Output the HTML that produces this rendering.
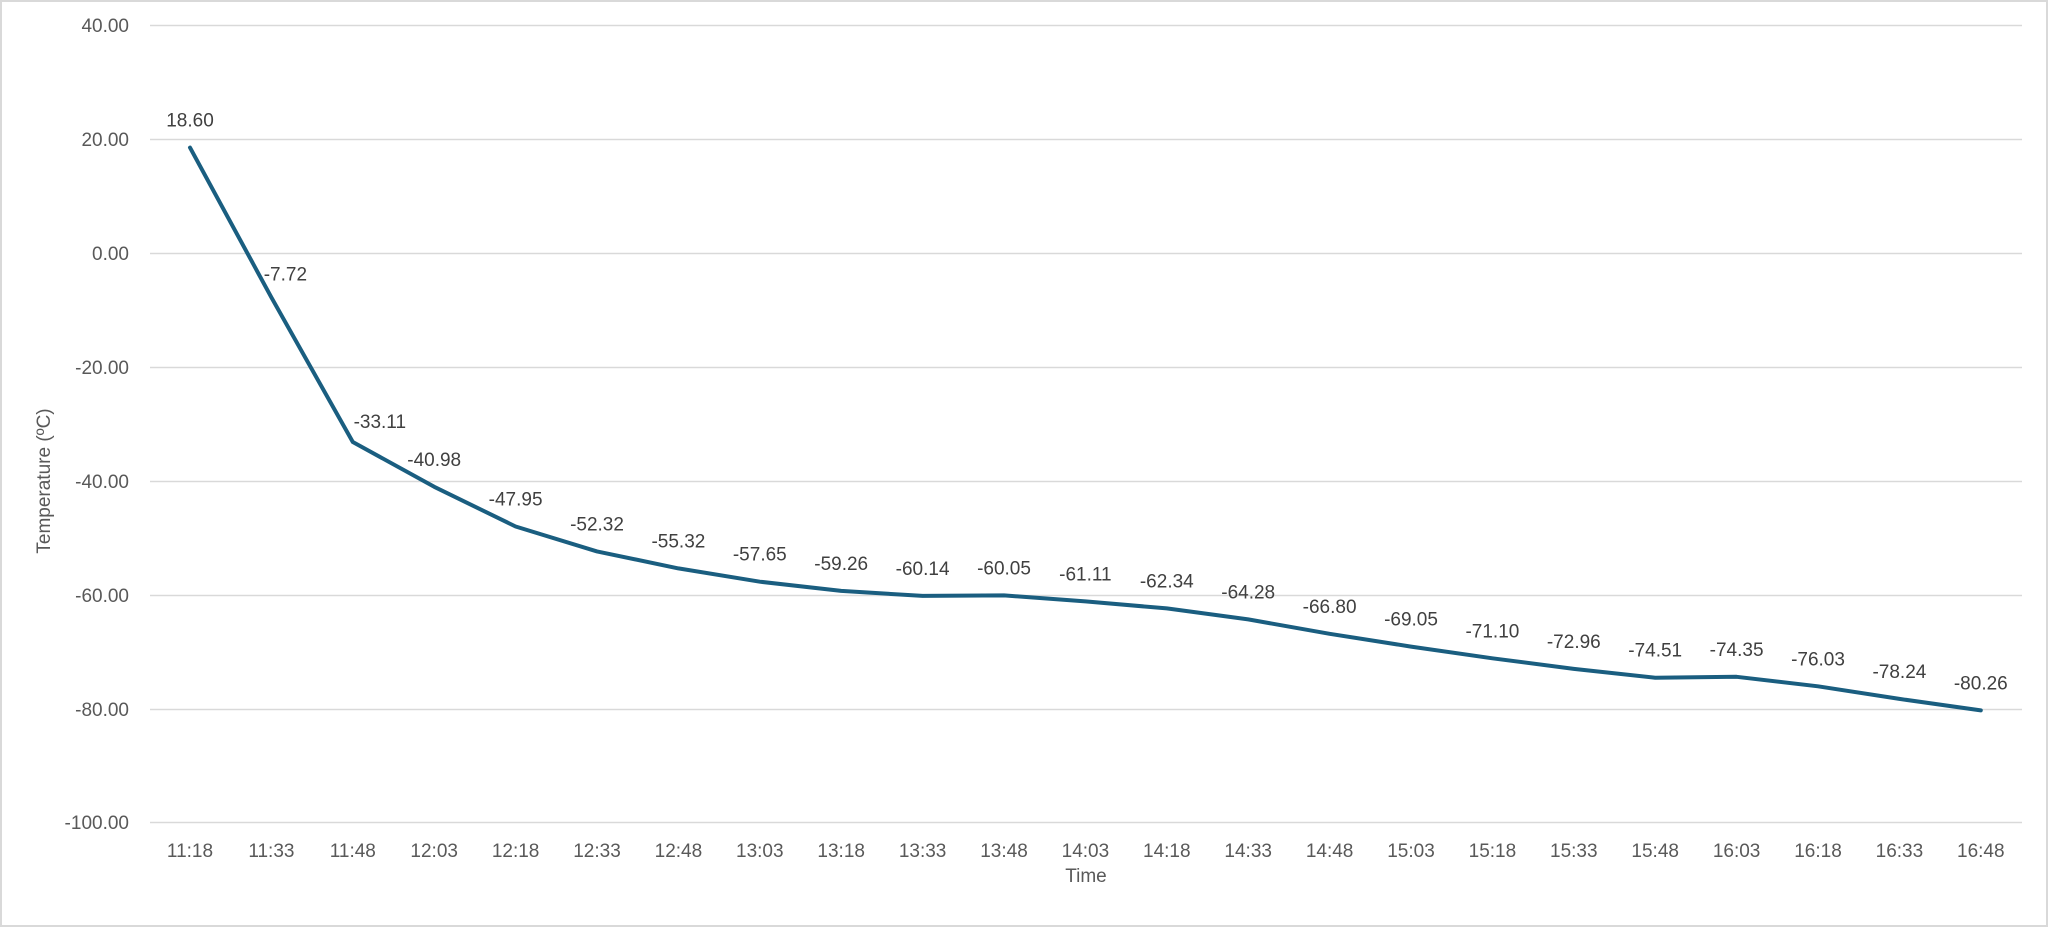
<!DOCTYPE html>
<html><head><meta charset="utf-8"><style>
html,body{margin:0;padding:0;background:#fff;}
svg{display:block;font-family:"Liberation Sans",Arial,sans-serif;}
</style></head><body>
<svg width="2048" height="927" viewBox="0 0 2048 927">
<rect x="1" y="1" width="2046" height="925" fill="#fff" stroke="#d9d9d9" stroke-width="2"/>
<g stroke="#d9d9d9" stroke-width="1.5">
<line x1="150" x2="2022" y1="25.5" y2="25.5"/>
<line x1="150" x2="2022" y1="139.5" y2="139.5"/>
<line x1="150" x2="2022" y1="253.5" y2="253.5"/>
<line x1="150" x2="2022" y1="367.5" y2="367.5"/>
<line x1="150" x2="2022" y1="481.5" y2="481.5"/>
<line x1="150" x2="2022" y1="595.5" y2="595.5"/>
<line x1="150" x2="2022" y1="709.5" y2="709.5"/>
<line x1="150" x2="2022" y1="822.5" y2="822.5"/>
</g>
<g fill="#595959" font-size="19" text-anchor="end">
<text x="129" y="32">40.00</text>
<text x="129" y="146">20.00</text>
<text x="129" y="260">0.00</text>
<text x="129" y="374">-20.00</text>
<text x="129" y="488">-40.00</text>
<text x="129" y="602">-60.00</text>
<text x="129" y="716">-80.00</text>
<text x="129" y="829">-100.00</text>
</g>
<text transform="translate(50,481) rotate(-90)" fill="#595959" font-size="19" text-anchor="middle">Temperature (ºC)</text>
<text x="1086" y="882" fill="#595959" font-size="19" text-anchor="middle">Time</text>
<g id="xl" fill="#595959" font-size="19" text-anchor="middle"></g>
<polyline id="ln" fill="none" stroke="#1a5e80" stroke-width="4" stroke-linejoin="round" stroke-linecap="round" points=""/>
<g id="dl" fill="#404040" font-size="19" text-anchor="middle"></g>
</svg>
<script>
var v=[18.60,-7.72,-33.11,-40.98,-47.95,-52.32,-55.32,-57.65,-59.26,-60.14,-60.05,-61.11,-62.34,-64.28,-66.80,-69.05,-71.10,-72.96,-74.51,-74.35,-76.03,-78.24,-80.26];
var t=["11:18","11:33","11:48","12:03","12:18","12:33","12:48","13:03","13:18","13:33","13:48","14:03","14:18","14:33","14:48","15:03","15:18","15:33","15:48","16:03","16:18","16:33","16:48"];
var ns="http://www.w3.org/2000/svg",pts=[],xl=document.getElementById('xl'),dl=document.getElementById('dl');
for(var i=0;i<v.length;i++){
 var x=190+i*81.4,y=253.5-v[i]*5.6929;
 pts.push(x.toFixed(1)+","+y.toFixed(1));
 var a=document.createElementNS(ns,'text');a.setAttribute('x',x);a.setAttribute('y',857);a.textContent=t[i];xl.appendChild(a);
 var b=document.createElementNS(ns,'text');
 var lx=x,ly=y-21;
 if(i==1){lx=x+14;ly=y-17;} if(i==2){lx=x+27;ly=y-14;}
 b.setAttribute('x',lx);b.setAttribute('y',ly);b.textContent=v[i].toFixed(2);dl.appendChild(b);
}
document.getElementById('ln').setAttribute('points',pts.join(' '));
</script>
</body></html>
